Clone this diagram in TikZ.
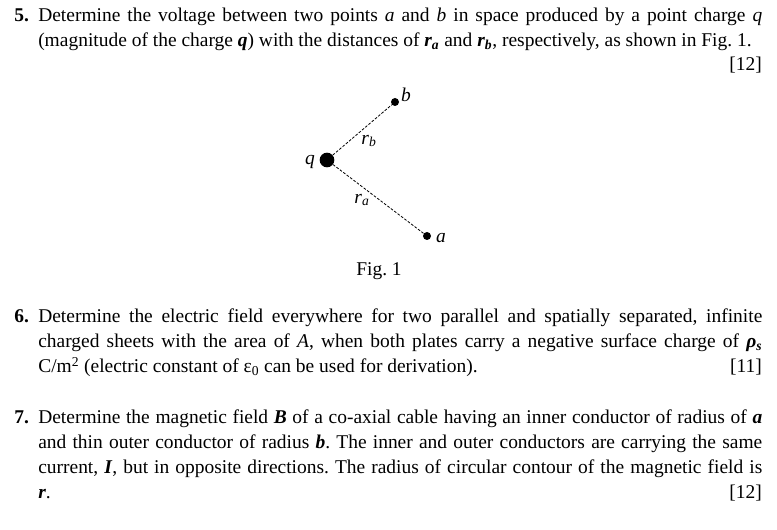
\documentclass[tikz,border=0pt]{standalone}
\usepackage{fontspec}
\setmainfont{Liberation Serif}
\newcommand{\bi}[1]{\textbf{\textit{#1}}}
\frenchspacing
\begin{document}
\begin{tikzpicture}[x=0.75pt,y=-0.75pt,
  txt/.style={anchor=base west,inner sep=0pt,font=\fontsize{14.6}{16}\selectfont},
  rtxt/.style={anchor=base east,inner sep=0pt,font=\fontsize{14.6}{16}\selectfont},
  dot/.style={circle,fill=black,inner sep=0pt},
  lbl/.style={inner sep=1pt,font=\fontsize{14.6}{16}\selectfont\itshape}]
\useasboundingbox (0,0) rectangle (777,530);
\newcommand{\jl}[1]{\makebox[543pt][s]{#1}}
% Problem 5
\node[txt] (n5) at (14,22) {\textbf{5.}};
\node[txt] (l51) at (38,22) {\jl{Determine the voltage between two points \textit{a} and \textit{b} in space produced by a point charge \textit{q}}};
\node[txt] (l52) at (38,47) {(magnitude of the charge \bi{q}) with the distances of \bi{r\textsubscript{a}} and \bi{r\textsubscript{b}}, respectively, as shown in Fig. 1.};
\node[rtxt] (m5) at (762,71) {[12]};
% Figure
\node[dot,minimum size=11pt] (q) at (327,160) {};
\node[dot,minimum size=6pt] (b) at (395,102) {};
\node[dot,minimum size=6pt] (a) at (427,236) {};
\draw[line width=0.6pt,dash pattern=on 2pt off 1.2pt] (q) -- (b);
\draw[line width=0.6pt,dash pattern=on 2pt off 1.2pt] (q) -- (a);
\node[lbl] (ql) at (310,162) {q};
\node[lbl] (bl) at (406,95) {b};
\node[lbl] (al) at (441,238) {a};
\node[lbl] (rb) at (369,141) {r\textsubscript{b}};
\node[lbl] (ra) at (362,200) {r\textsubscript{a}};
\node[txt,anchor=base] (fig) at (379,276) {Fig. 1};
% Problem 6
\node[txt] (n6) at (14,323) {\textbf{6.}};
\node[txt] (l61) at (38,323) {\jl{Determine the electric field everywhere for two parallel and spatially separated, infinite}};
\node[txt] (l62) at (38,348) {\jl{charged sheets with the area of \textit{A}, when both plates carry a negative surface charge of \bi{ρ}\textsubscript{\textbf{\textit{s}}}}};
\node[txt] (l63) at (38,373) {C/m\textsuperscript{2} (electric constant of ε\textsubscript{0} can be used for derivation).};
\node[rtxt] (m6) at (762,373) {[11]};
% Problem 7
\node[txt] (n7) at (14,423) {\textbf{7.}};
\node[txt] (l71) at (38,423) {\jl{Determine the magnetic field \textbf{\textit{B}} of a co-axial cable having an inner conductor of radius of \bi{a}}};
\node[txt] (l72) at (38,448) {\jl{and thin outer conductor of radius \bi{b}. The inner and outer conductors are carrying the same}};
\node[txt] (l73) at (38,473) {\jl{current, \bi{I}, but in opposite directions. The radius of circular contour of the magnetic field is}};
\node[txt] (l74) at (38,498) {\bi{r}.};
\node[rtxt] (m7) at (762,498) {[12]};
\end{tikzpicture}
\end{document}
